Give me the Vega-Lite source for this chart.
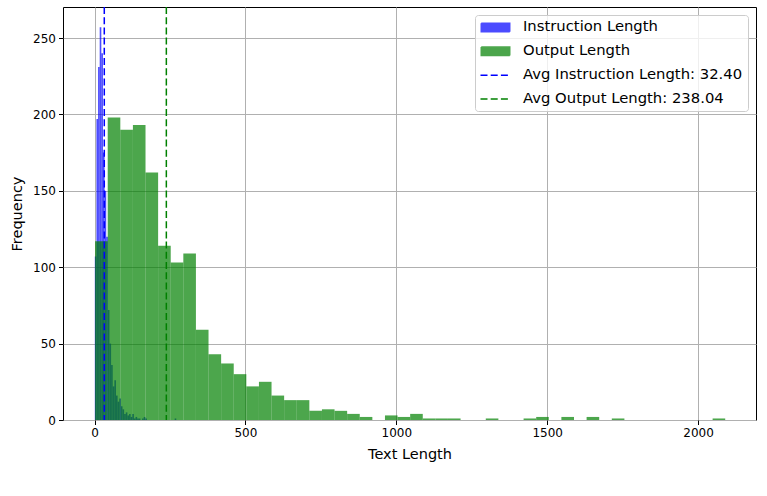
{
  "$schema": "https://vega.github.io/schema/vega-lite/v6.json",
  "width": 693,
  "height": 413,
  "autosize": {"type": "none"},
  "padding": {"left": 63, "top": 7, "right": 11, "bottom": 76},
  "background": "white",
  "config": {
    "font": "DejaVu Sans",
    "view": {"stroke": "black", "strokeWidth": 1},
    "axis": {
      "labelFont": "DejaVu Sans",
      "titleFont": "DejaVu Sans",
      "labelFontSize": 12,
      "titleFontSize": 14.5,
      "titleFontWeight": "normal",
      "labelColor": "black",
      "titleColor": "black",
      "tickColor": "black",
      "tickSize": 4.5,
      "tickWidth": 1,
      "labelPadding": 3,
      "domain": false,
      "grid": true,
      "gridColor": "#b0b0b0",
      "gridWidth": 1,
      "zindex": 1,
      "labelFlush": false,
      "labelOverlap": false
    },
    "legend": {
      "title": null,
      "orient": "top-right",
      "offset": 8,
      "padding": 5,
      "rowPadding": 7.9,
      "cornerRadius": 3,
      "strokeColor": "#cccccc",
      "fillColor": "rgba(255,255,255,0.8)",
      "labelFont": "DejaVu Sans",
      "labelFontSize": 14.8,
      "labelColor": "black",
      "labelLimit": 400,
      "labelOffset": 28.2,
      "symbolSize": 1,
      "symbolStrokeWidth": 1.5
    }
  },
  "datasets": {
    "hist": [
      {"series": "Instruction Length", "start": 1.0, "end": 6.4, "count": 107},
      {"series": "Instruction Length", "start": 6.4, "end": 11.8, "count": 197},
      {"series": "Instruction Length", "start": 11.8, "end": 17.2, "count": 231},
      {"series": "Instruction Length", "start": 17.2, "end": 22.6, "count": 257},
      {"series": "Instruction Length", "start": 22.6, "end": 28.0, "count": 240},
      {"series": "Instruction Length", "start": 28.0, "end": 33.4, "count": 175},
      {"series": "Instruction Length", "start": 33.4, "end": 38.8, "count": 150},
      {"series": "Instruction Length", "start": 38.8, "end": 44.2, "count": 120},
      {"series": "Instruction Length", "start": 44.2, "end": 49.6, "count": 72},
      {"series": "Instruction Length", "start": 49.6, "end": 55.0, "count": 50},
      {"series": "Instruction Length", "start": 55.0, "end": 60.4, "count": 36},
      {"series": "Instruction Length", "start": 60.4, "end": 65.8, "count": 22},
      {"series": "Instruction Length", "start": 65.8, "end": 71.2, "count": 26},
      {"series": "Instruction Length", "start": 71.2, "end": 76.6, "count": 16},
      {"series": "Instruction Length", "start": 76.6, "end": 82.0, "count": 12},
      {"series": "Instruction Length", "start": 82.0, "end": 87.4, "count": 14},
      {"series": "Instruction Length", "start": 87.4, "end": 92.8, "count": 9},
      {"series": "Instruction Length", "start": 92.8, "end": 98.2, "count": 7},
      {"series": "Instruction Length", "start": 98.2, "end": 103.6, "count": 4},
      {"series": "Instruction Length", "start": 103.6, "end": 109.0, "count": 5},
      {"series": "Instruction Length", "start": 109.0, "end": 114.4, "count": 3},
      {"series": "Instruction Length", "start": 114.4, "end": 119.8, "count": 4},
      {"series": "Instruction Length", "start": 119.8, "end": 125.2, "count": 2},
      {"series": "Instruction Length", "start": 125.2, "end": 130.6, "count": 4},
      {"series": "Instruction Length", "start": 130.6, "end": 136.0, "count": 1},
      {"series": "Instruction Length", "start": 136.0, "end": 141.4, "count": 2},
      {"series": "Instruction Length", "start": 141.4, "end": 146.8, "count": 1},
      {"series": "Instruction Length", "start": 146.8, "end": 152.2, "count": 1},
      {"series": "Instruction Length", "start": 157.6, "end": 163.0, "count": 1},
      {"series": "Instruction Length", "start": 163.0, "end": 168.4, "count": 2},
      {"series": "Instruction Length", "start": 168.4, "end": 173.8, "count": 1},
      {"series": "Instruction Length", "start": 265.6, "end": 271.0, "count": 1},
      {"series": "Output Length", "start": 2.0, "end": 43.76, "count": 117},
      {"series": "Output Length", "start": 43.76, "end": 85.52, "count": 198},
      {"series": "Output Length", "start": 85.52, "end": 127.28, "count": 190},
      {"series": "Output Length", "start": 127.28, "end": 169.04, "count": 193},
      {"series": "Output Length", "start": 169.04, "end": 210.8, "count": 162},
      {"series": "Output Length", "start": 210.8, "end": 252.56, "count": 114},
      {"series": "Output Length", "start": 252.56, "end": 294.32, "count": 103},
      {"series": "Output Length", "start": 294.32, "end": 336.08, "count": 109},
      {"series": "Output Length", "start": 336.08, "end": 377.84, "count": 59},
      {"series": "Output Length", "start": 377.84, "end": 419.6, "count": 43},
      {"series": "Output Length", "start": 419.6, "end": 461.36, "count": 37},
      {"series": "Output Length", "start": 461.36, "end": 503.12, "count": 30},
      {"series": "Output Length", "start": 503.12, "end": 544.88, "count": 22},
      {"series": "Output Length", "start": 544.88, "end": 586.64, "count": 25},
      {"series": "Output Length", "start": 586.64, "end": 628.4, "count": 16},
      {"series": "Output Length", "start": 628.4, "end": 670.16, "count": 13},
      {"series": "Output Length", "start": 670.16, "end": 711.92, "count": 13},
      {"series": "Output Length", "start": 711.92, "end": 753.68, "count": 6},
      {"series": "Output Length", "start": 753.68, "end": 795.44, "count": 7},
      {"series": "Output Length", "start": 795.44, "end": 837.2, "count": 6},
      {"series": "Output Length", "start": 837.2, "end": 878.96, "count": 4},
      {"series": "Output Length", "start": 878.96, "end": 920.72, "count": 2},
      {"series": "Output Length", "start": 962.48, "end": 1004.24, "count": 3},
      {"series": "Output Length", "start": 1004.24, "end": 1046.0, "count": 2},
      {"series": "Output Length", "start": 1046.0, "end": 1087.76, "count": 4},
      {"series": "Output Length", "start": 1087.76, "end": 1129.52, "count": 1},
      {"series": "Output Length", "start": 1129.52, "end": 1171.28, "count": 1},
      {"series": "Output Length", "start": 1171.28, "end": 1213.04, "count": 1},
      {"series": "Output Length", "start": 1296.56, "end": 1338.32, "count": 1},
      {"series": "Output Length", "start": 1421.84, "end": 1463.6, "count": 1},
      {"series": "Output Length", "start": 1463.6, "end": 1505.36, "count": 2},
      {"series": "Output Length", "start": 1547.12, "end": 1588.88, "count": 2},
      {"series": "Output Length", "start": 1630.64, "end": 1672.4, "count": 2},
      {"series": "Output Length", "start": 1714.16, "end": 1755.92, "count": 1},
      {"series": "Output Length", "start": 2048.24, "end": 2090.0, "count": 1}
    ],
    "avg": [
      {"series": "Avg Instruction Length: 32.40", "avg": 32.4},
      {"series": "Avg Output Length: 238.04", "avg": 238.04}
    ]
  },
  "layer": [
    {
      "data": {"name": "hist"},
      "mark": {"type": "rect"},
      "encoding": {
        "x": {
          "field": "start",
          "type": "quantitative",
          "scale": {"domain": [-104.4, 2192], "nice": false, "zero": false},
          "axis": {"title": "Text Length", "values": [0, 500, 1000, 1500, 2000], "format": "d", "titlePadding": 9}
        },
        "x2": {"field": "end"},
        "y": {
          "field": "count",
          "type": "quantitative",
          "scale": {"domain": [0, 270.3], "nice": false},
          "axis": {"title": "Frequency", "values": [0, 50, 100, 150, 200, 250], "format": "d", "titlePadding": 8}
        },
        "y2": {"datum": 0},
        "color": {
          "field": "series",
          "type": "nominal",
          "scale": {
            "domain": ["Instruction Length", "Output Length", "Avg Instruction Length: 32.40", "Avg Output Length: 238.04"],
            "range": ["#0000ff", "#008000", "#0000ff", "#008000"]
          },
          "legend": {"title": null, "symbolSize": 1}
        },
        "opacity": {
          "field": "series",
          "type": "nominal",
          "scale": {
            "type": "ordinal",
            "domain": ["Instruction Length", "Output Length", "Avg Instruction Length: 32.40", "Avg Output Length: 238.04"],
            "range": [0.7, 0.7, 1, 1]
          },
          "legend": {"title": null, "symbolSize": 1}
        }
      }
    },
    {
      "data": {"name": "avg"},
      "mark": {"type": "rule", "strokeWidth": 1.5},
      "encoding": {
        "x": {"field": "avg", "type": "quantitative"},
        "color": {"field": "series", "type": "nominal"},
        "strokeDash": {
          "field": "series",
          "type": "nominal",
          "scale": {
            "domain": ["Instruction Length", "Output Length", "Avg Instruction Length: 32.40", "Avg Output Length: 238.04"],
            "range": [[1, 0], [1, 0], [7, 3.2], [7, 3.2]]
          },
          "legend": {"title": null, "symbolSize": 1}
        }
      }
    },
    {
      "data": {"name": "avg"},
      "mark": {"type": "point", "opacity": 0},
      "encoding": {
        "x": {"field": "avg", "type": "quantitative"},
        "shape": {
          "field": "series",
          "type": "nominal",
          "scale": {
            "domain": ["Instruction Length", "Output Length", "Avg Instruction Length: 32.40", "Avg Output Length: 238.04"],
            "range": ["M-12.3,-8.5H44.7V8.5H-12.3Z", "M-12.3,-8.5H44.7V8.5H-12.3Z", "M-13.8,0H46.2", "M-13.8,0H46.2"]
          },
          "legend": {"title": null, "symbolSize": 1}
        }
      }
    }
  ]
}
